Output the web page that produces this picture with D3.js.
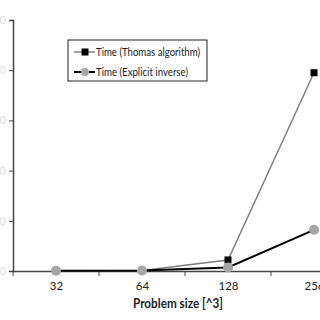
<!DOCTYPE html>
<meta charset="utf-8">
<style>
body { margin: 0; background: #fff; }
text { font-family: Lato, "Open Sans", sans-serif; }
</style>
<body>
<script src="https://cdn.jsdelivr.net/npm/d3@7/dist/d3.min.js"></script>
<script>
var sizes = ["32", "64", "128", "256"];
var thomas = [0.05, 0.1, 2.2, 39.5];
var explicit = [0.05, 0.1, 0.7, 8.2];
var yTicks = [0, 10, 20, 30, 40, 50];

var margin = {top: 20, left: 13},
    width = 344, height = 251;

var svg = d3.select("body").append("svg")
    .attr("width", 320).attr("height", 320)
  .append("g")
    .attr("transform", "translate(" + margin.left + "," + margin.top + ")");

var x = d3.scalePoint().domain(sizes).range([0, width]).padding(0.5);
var band = width / sizes.length;
var y = d3.scaleLinear().domain([0, 50]).range([height, 0]);

// y axis (labels are mostly cut off at the left edge)
var ya = svg.append("g").call(d3.axisLeft(y).tickValues(yTicks).tickSize(4).tickPadding(3));
ya.select(".domain").attr("stroke", "#444").attr("stroke-width", 1.5);
ya.selectAll(".tick line").attr("stroke", "#444");
ya.selectAll(".tick text").attr("fill", "#ddd").attr("font-size", 11);

// x axis
var xa = svg.append("g").attr("transform", "translate(0," + height + ")")
    .call(d3.axisBottom(x).tickSize(0).tickPadding(11));
xa.select(".domain").attr("stroke", "#444").attr("stroke-width", 1.5);
xa.selectAll(".tick text").attr("fill", "#222").attr("font-size", 11.5);
xa.selectAll(".sep").data(d3.range(sizes.length + 1)).enter().append("line")
    .attr("x1", function(i) { return i * band; }).attr("x2", function(i) { return i * band; })
    .attr("y1", 0).attr("y2", 5).attr("stroke", "#444");

svg.append("text")
    .attr("x", 165).attr("y", 288)
    .attr("text-anchor", "middle")
    .attr("font-size", 13.5).attr("font-weight", "bold").attr("fill", "#222")
    .attr("textLength", 90).attr("lengthAdjust", "spacingAndGlyphs")
    .text("Problem size [^3]");

var line = d3.line().x(function(d, i) { return x(sizes[i]); }).y(function(d) { return y(d); });

svg.append("path").datum(thomas).attr("d", line)
    .attr("fill", "none").attr("stroke", "#7f7f7f").attr("stroke-width", 1.5);
svg.append("path").datum(explicit).attr("d", line)
    .attr("fill", "none").attr("stroke", "#000").attr("stroke-width", 2);

svg.selectAll(".sq").data(thomas).enter().append("rect")
    .attr("x", function(d, i) { return x(sizes[i]) - 3.5; })
    .attr("y", function(d) { return y(d) - 3.5; })
    .attr("width", 7).attr("height", 7).attr("fill", "#000");
svg.selectAll(".ci").data(explicit).enter().append("circle")
    .attr("cx", function(d, i) { return x(sizes[i]); })
    .attr("cy", function(d) { return y(d); })
    .attr("r", 5).attr("fill", "#a6a6a6");

// legend
var lg = svg.append("g").attr("transform", "translate(55,20)");
lg.append("rect").attr("width", 139).attr("height", 41)
    .attr("fill", "#fff").attr("stroke", "#222").attr("stroke-width", 1);
var items = [{name: "Time (Thomas algorithm)", c: "#7f7f7f", w: 1.5, sym: "sq", len: 104},
             {name: "Time (Explicit inverse)", c: "#000", w: 2, sym: "ci", len: 92}];
items.forEach(function(it, i) {
  var gy = 12 + i * 20;
  lg.append("line").attr("x1", 6).attr("x2", 27).attr("y1", gy).attr("y2", gy)
      .attr("stroke", it.c).attr("stroke-width", it.w);
  if (it.sym == "sq") lg.append("rect").attr("x", 13.5).attr("y", gy - 3.5).attr("width", 7).attr("height", 7).attr("fill", "#000");
  else lg.append("circle").attr("cx", 17).attr("cy", gy).attr("r", 4).attr("fill", "#a6a6a6");
  lg.append("text").attr("x", 28).attr("y", gy + 4).attr("font-size", 11.5).attr("fill", "#222")
      .attr("textLength", it.len).attr("lengthAdjust", "spacingAndGlyphs").text(it.name);
});
</script>
</body>
